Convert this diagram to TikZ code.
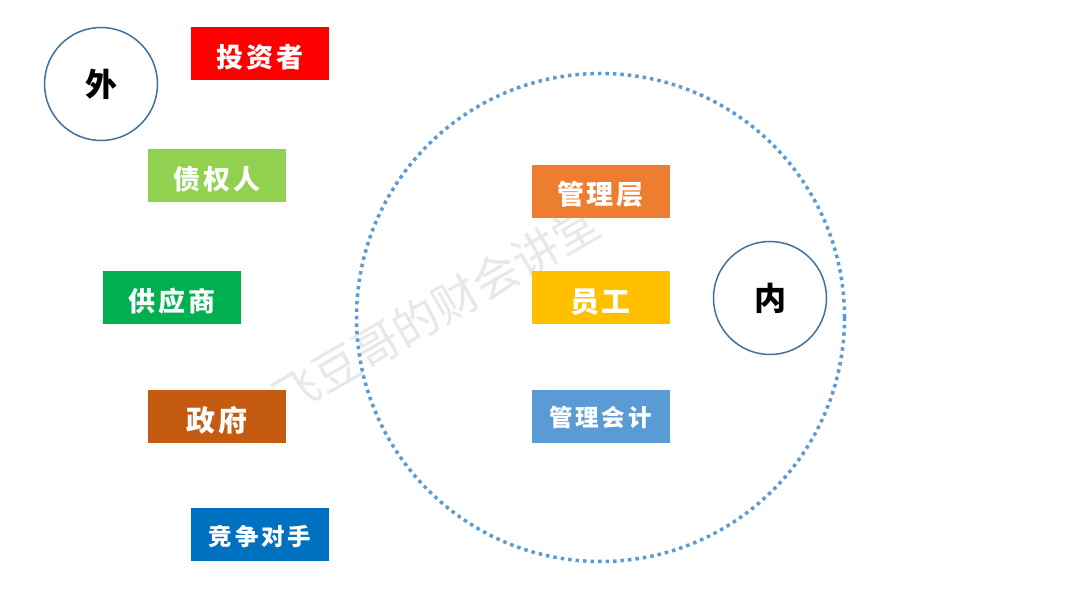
\documentclass[tikz,border=0pt]{standalone}
\usepackage{fontspec}
\newfontfamily\cjk{Noto Sans CJK SC}
\newfontfamily\cjkA{Noto Sans CJK SC}[LetterSpace=10]
\newfontfamily\cjkB{Noto Sans CJK SC}[LetterSpace=12]
\definecolor{cRed}{HTML}{FF0000}
\definecolor{cLime}{HTML}{92D050}
\definecolor{cGreen}{HTML}{00B050}
\definecolor{cRust}{HTML}{C55A11}
\definecolor{cBlue}{HTML}{0070C0}
\definecolor{cOrange}{HTML}{ED7D31}
\definecolor{cGold}{HTML}{FFC000}
\definecolor{cSky}{HTML}{5B9BD5}
\definecolor{cRing}{HTML}{41719C}
\tikzset{
  box/.style={rectangle, minimum width=138pt, minimum height=53pt, inner sep=0pt,
    text=white, text height=26.5pt, text depth=0pt,
    font=\cjkA\bfseries\fontsize{27}{29}\selectfont},
  boxbig/.style={box, text height=30pt, text depth=0pt,
    font=\cjkA\bfseries\fontsize{29}{31}\selectfont},
  boxsmall/.style={box, text height=21pt, text depth=0pt,
    font=\cjkB\bfseries\fontsize{23.5}{25}\selectfont},
  ring/.style={circle, draw=cRing, line width=1.5pt, minimum size=113pt, inner sep=0pt,
    font=\cjk\bfseries\fontsize{32}{34}\selectfont},
}
\begin{document}
\begin{tikzpicture}[x=1pt,y=-1pt]
\useasboundingbox (0,0) rectangle (1072,601);
\fill[white] (0,0) rectangle (1072,601);
% watermark
\node[rotate=30, text=black!9, font=\cjk\fontsize{46}{48}\selectfont, inner sep=0pt] (wm) at (436,310) {飞豆哥的财会讲堂};
% dotted circle
\node[circle, draw=cSky, line width=3.5pt, dash pattern=on 3.5pt off 4pt, minimum size=488pt, inner sep=0pt] (inner) at (600.5,317.5) {};
% outside boxes
\node[box, fill=cRed] (tz) at (260,54) {投资者};
\node[box, fill=cLime] (zq) at (217,176) {债权人};
\node[box, fill=cGreen] (gy) at (172,298) {供应商};
\node[boxbig, fill=cRust] (zf) at (217,416.5) {政府};
\node[boxsmall, fill=cBlue] (jz) at (260,535) {竞争对手};
% inside boxes
\node[box, fill=cOrange] (gl) at (600.5,191.5) {管理层};
\node[boxbig, fill=cGold] (yg) at (600.5,297.5) {员工};
\node[boxsmall, fill=cSky] (gk) at (600.5,416.5) {管理会计};
% circles
\node[ring] (wai) at (101,84) {外};
\node[ring] (nei) at (770,298) {内};
\end{tikzpicture}
\end{document}
